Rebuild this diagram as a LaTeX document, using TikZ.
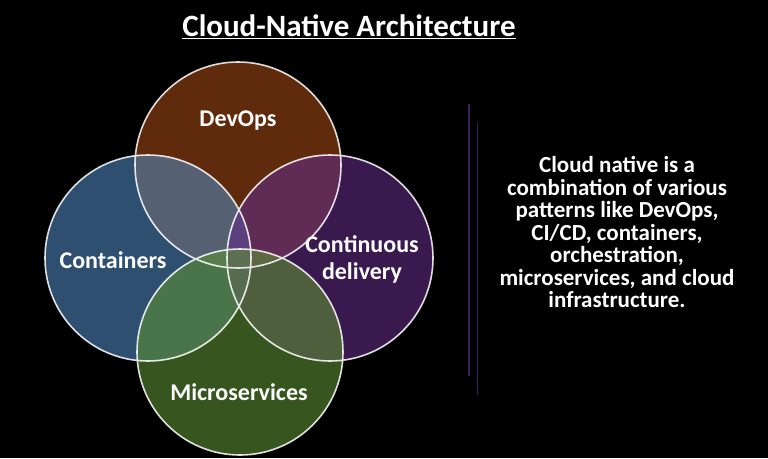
\documentclass[tikz,border=0pt]{standalone}
\usepackage{fontspec}
\setmainfont{Carlito}
\begin{document}
\begin{tikzpicture}[x=1pt,y=-1pt,
  circ/.style={fill opacity=0.6},
  lbl/.style={text=white,font=\bfseries\fontsize{24}{27}\selectfont,align=center}]
\fill[black] (0,0) rectangle (768,458);
\useasboundingbox (0,0) rectangle (768,458);
\node[text=white,font=\bfseries\fontsize{31}{34}\selectfont] (title) at (349,27) {\underline{Cloud-Native Architecture}};
\fill[circ,fill={rgb,255:red,160;green,73;blue,20}] (238,165) circle (103);
\fill[circ,fill={rgb,255:red,78;green,132;blue,185}] (148,258) circle (103);
\fill[circ,fill={rgb,255:red,97;green,43;blue,133}] (330,258) circle (103);
\fill[circ,fill={rgb,255:red,93;green,143;blue,52}] (240,352) circle (103);
\draw[white,line width=1.6pt,draw opacity=0.85] (238,165) circle (103) (148,258) circle (103) (330,258) circle (103) (240,352) circle (103);
\node[lbl] (devops) at (238,121) {DevOps};
\node[lbl] (cont) at (113,260) {Containers};
\node[lbl] (cd) at (362,259) {Continuous\\delivery};
\node[lbl] (micro) at (239,392) {Microservices};
\draw[color={rgb,255:red,60;green,30;blue,90},line width=1.5pt] (469,104) -- (469,376);
\draw[color={rgb,255:red,60;green,30;blue,90},line width=1pt] (477,123) -- (477,395);
\node[text=white,font=\bfseries\fontsize{23}{22.5}\selectfont,align=center] (desc) at (617,232) {Cloud native is a\\combination of various\\patterns like DevOps,\\CI/CD, containers,\\orchestration,\\microservices, and cloud\\infrastructure.};
\end{tikzpicture}
\end{document}
